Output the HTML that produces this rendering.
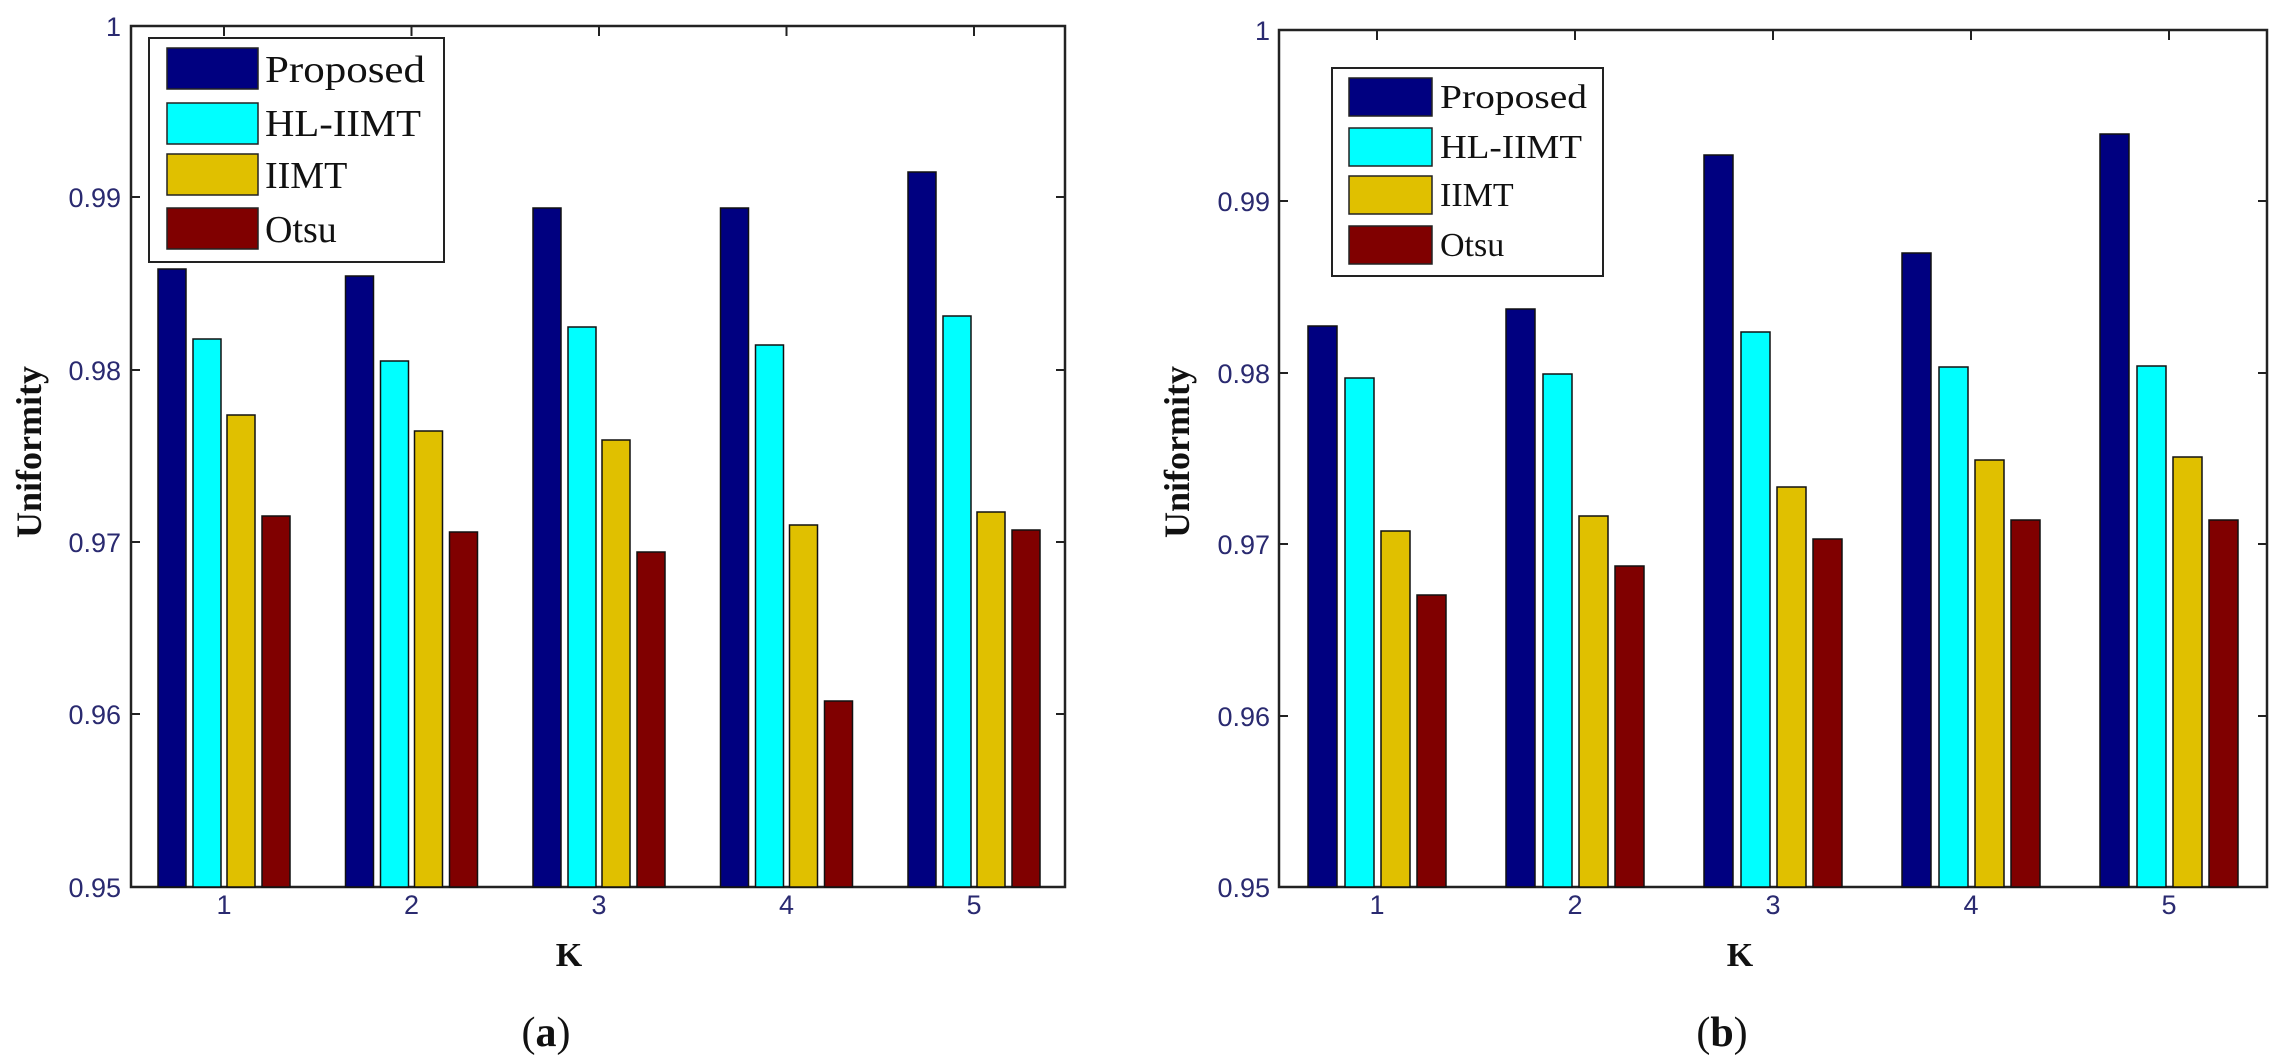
<!DOCTYPE html>
<html><head><meta charset="utf-8"><style>body{margin:0;background:#fff}svg{display:block}</style></head>
<body>
<svg width="2285" height="1063" viewBox="0 0 2285 1063" xmlns="http://www.w3.org/2000/svg">
<rect width="2285" height="1063" fill="#fff"/>
<g id="A">
<rect x="131" y="26" width="934" height="861" fill="none" stroke="#222" stroke-width="2.5"/>
<g stroke="#222" stroke-width="2">
<line x1="131" y1="197" x2="140" y2="197"/><line x1="131" y1="370" x2="140" y2="370"/><line x1="131" y1="542" x2="140" y2="542"/><line x1="131" y1="714" x2="140" y2="714"/>
<line x1="1065" y1="197" x2="1056" y2="197"/><line x1="1065" y1="370" x2="1056" y2="370"/><line x1="1065" y1="542" x2="1056" y2="542"/><line x1="1065" y1="714" x2="1056" y2="714"/>
<line x1="224" y1="26" x2="224" y2="36"/><line x1="411.5" y1="26" x2="411.5" y2="36"/><line x1="599" y1="26" x2="599" y2="36"/><line x1="786.5" y1="26" x2="786.5" y2="36"/><line x1="974" y1="26" x2="974" y2="36"/>
</g>
<g stroke="#111" stroke-width="1.5">
<rect x="158" y="269" width="28" height="618" fill="#000080"/><rect x="193" y="339" width="28" height="548" fill="#00ffff"/><rect x="227" y="415" width="28" height="472" fill="#e0c000"/><rect x="262" y="516" width="28" height="371" fill="#800000"/>
<rect x="345.5" y="276" width="28" height="611" fill="#000080"/><rect x="380.5" y="361" width="28" height="526" fill="#00ffff"/><rect x="414.5" y="431" width="28" height="456" fill="#e0c000"/><rect x="449.5" y="532" width="28" height="355" fill="#800000"/>
<rect x="533" y="208" width="28" height="679" fill="#000080"/><rect x="568" y="327" width="28" height="560" fill="#00ffff"/><rect x="602" y="440" width="28" height="447" fill="#e0c000"/><rect x="637" y="552" width="28" height="335" fill="#800000"/>
<rect x="720.5" y="208" width="28" height="679" fill="#000080"/><rect x="755.5" y="345" width="28" height="542" fill="#00ffff"/><rect x="789.5" y="525" width="28" height="362" fill="#e0c000"/><rect x="824.5" y="701" width="28" height="186" fill="#800000"/>
<rect x="908" y="172" width="28" height="715" fill="#000080"/><rect x="943" y="316" width="28" height="571" fill="#00ffff"/><rect x="977" y="512" width="28" height="375" fill="#e0c000"/><rect x="1012" y="530" width="28" height="357" fill="#800000"/>
</g>
<rect x="149" y="38" width="295" height="224" fill="#fff" stroke="#222" stroke-width="2"/>
<g stroke="#222" stroke-width="1.5">
<rect x="167" y="48" width="91" height="41" fill="#000080"/><rect x="167" y="103" width="91" height="41" fill="#00ffff"/><rect x="167" y="154" width="91" height="41" fill="#e0c000"/><rect x="167" y="208" width="91" height="41" fill="#800000"/>
</g>
<g font-family="Liberation Serif, serif" font-size="38" fill="#111">
<text x="265" y="82" textLength="160" lengthAdjust="spacingAndGlyphs">Proposed</text>
<text x="265" y="136" textLength="156" lengthAdjust="spacingAndGlyphs">HL-IIMT</text>
<text x="265" y="188">IIMT</text>
<text x="265" y="242">Otsu</text>
</g>
<g font-family="Liberation Sans, sans-serif" font-size="27" fill="#2a2a70" text-anchor="end">
<text x="121" y="36">1</text><text x="121" y="207">0.99</text><text x="121" y="380">0.98</text><text x="121" y="552">0.97</text><text x="121" y="724">0.96</text><text x="121" y="897">0.95</text>
</g>
<g font-family="Liberation Sans, sans-serif" font-size="27" fill="#2a2a70" text-anchor="middle">
<text x="224" y="914">1</text><text x="411.5" y="914">2</text><text x="599" y="914">3</text><text x="786.5" y="914">4</text><text x="974" y="914">5</text>
</g>
<text x="569" y="966" font-family="Liberation Serif, serif" font-weight="bold" font-size="34" text-anchor="middle" fill="#111">K</text>
<text transform="translate(41,452) rotate(-90)" font-family="Liberation Serif, serif" font-weight="bold" font-size="36" text-anchor="middle" fill="#111">Uniformity</text>
<text x="546" y="1046" font-family="Liberation Serif, serif" font-size="42" text-anchor="middle" fill="#111">(<tspan font-weight="bold">a</tspan>)</text>
</g>

<g id="B">
<rect x="1279" y="30" width="988" height="857" fill="none" stroke="#222" stroke-width="2.5"/>
<g stroke="#222" stroke-width="2">
<line x1="1279" y1="201" x2="1288" y2="201"/><line x1="1279" y1="373" x2="1288" y2="373"/><line x1="1279" y1="544" x2="1288" y2="544"/><line x1="1279" y1="716" x2="1288" y2="716"/>
<line x1="2267" y1="201" x2="2258" y2="201"/><line x1="2267" y1="373" x2="2258" y2="373"/><line x1="2267" y1="544" x2="2258" y2="544"/><line x1="2267" y1="716" x2="2258" y2="716"/>
<line x1="1377" y1="30" x2="1377" y2="40"/><line x1="1575" y1="30" x2="1575" y2="40"/><line x1="1773" y1="30" x2="1773" y2="40"/><line x1="1971" y1="30" x2="1971" y2="40"/><line x1="2169" y1="30" x2="2169" y2="40"/>
</g>
<g stroke="#111" stroke-width="1.5">
<rect x="1308" y="326" width="29" height="561" fill="#000080"/><rect x="1345" y="378" width="29" height="509" fill="#00ffff"/><rect x="1381" y="531" width="29" height="356" fill="#e0c000"/><rect x="1417" y="595" width="29" height="292" fill="#800000"/>
<rect x="1506" y="309" width="29" height="578" fill="#000080"/><rect x="1543" y="374" width="29" height="513" fill="#00ffff"/><rect x="1579" y="516" width="29" height="371" fill="#e0c000"/><rect x="1615" y="566" width="29" height="321" fill="#800000"/>
<rect x="1704" y="155" width="29" height="732" fill="#000080"/><rect x="1741" y="332" width="29" height="555" fill="#00ffff"/><rect x="1777" y="487" width="29" height="400" fill="#e0c000"/><rect x="1813" y="539" width="29" height="348" fill="#800000"/>
<rect x="1902" y="253" width="29" height="634" fill="#000080"/><rect x="1939" y="367" width="29" height="520" fill="#00ffff"/><rect x="1975" y="460" width="29" height="427" fill="#e0c000"/><rect x="2011" y="520" width="29" height="367" fill="#800000"/>
<rect x="2100" y="134" width="29" height="753" fill="#000080"/><rect x="2137" y="366" width="29" height="521" fill="#00ffff"/><rect x="2173" y="457" width="29" height="430" fill="#e0c000"/><rect x="2209" y="520" width="29" height="367" fill="#800000"/>
</g>
<rect x="1332" y="68" width="271" height="208" fill="#fff" stroke="#222" stroke-width="2"/>
<g stroke="#222" stroke-width="1.5">
<rect x="1349" y="78" width="83" height="38" fill="#000080"/><rect x="1349" y="128" width="83" height="38" fill="#00ffff"/><rect x="1349" y="176" width="83" height="38" fill="#e0c000"/><rect x="1349" y="226" width="83" height="38" fill="#800000"/>
</g>
<g font-family="Liberation Serif, serif" font-size="34" fill="#111">
<text x="1440" y="108" textLength="147" lengthAdjust="spacingAndGlyphs">Proposed</text>
<text x="1440" y="158" textLength="142" lengthAdjust="spacingAndGlyphs">HL-IIMT</text>
<text x="1440" y="206">IIMT</text>
<text x="1440" y="256">Otsu</text>
</g>
<g font-family="Liberation Sans, sans-serif" font-size="27" fill="#2a2a70" text-anchor="end">
<text x="1270" y="40">1</text><text x="1270" y="211">0.99</text><text x="1270" y="383">0.98</text><text x="1270" y="554">0.97</text><text x="1270" y="726">0.96</text><text x="1270" y="897">0.95</text>
</g>
<g font-family="Liberation Sans, sans-serif" font-size="27" fill="#2a2a70" text-anchor="middle">
<text x="1377" y="914">1</text><text x="1575" y="914">2</text><text x="1773" y="914">3</text><text x="1971" y="914">4</text><text x="2169" y="914">5</text>
</g>
<text x="1740" y="966" font-family="Liberation Serif, serif" font-weight="bold" font-size="34" text-anchor="middle" fill="#111">K</text>
<text transform="translate(1189,452) rotate(-90)" font-family="Liberation Serif, serif" font-weight="bold" font-size="36" text-anchor="middle" fill="#111">Uniformity</text>
<text x="1722" y="1046" font-family="Liberation Serif, serif" font-size="42" text-anchor="middle" fill="#111">(<tspan font-weight="bold">b</tspan>)</text>
</g>
</svg>
</body></html>
